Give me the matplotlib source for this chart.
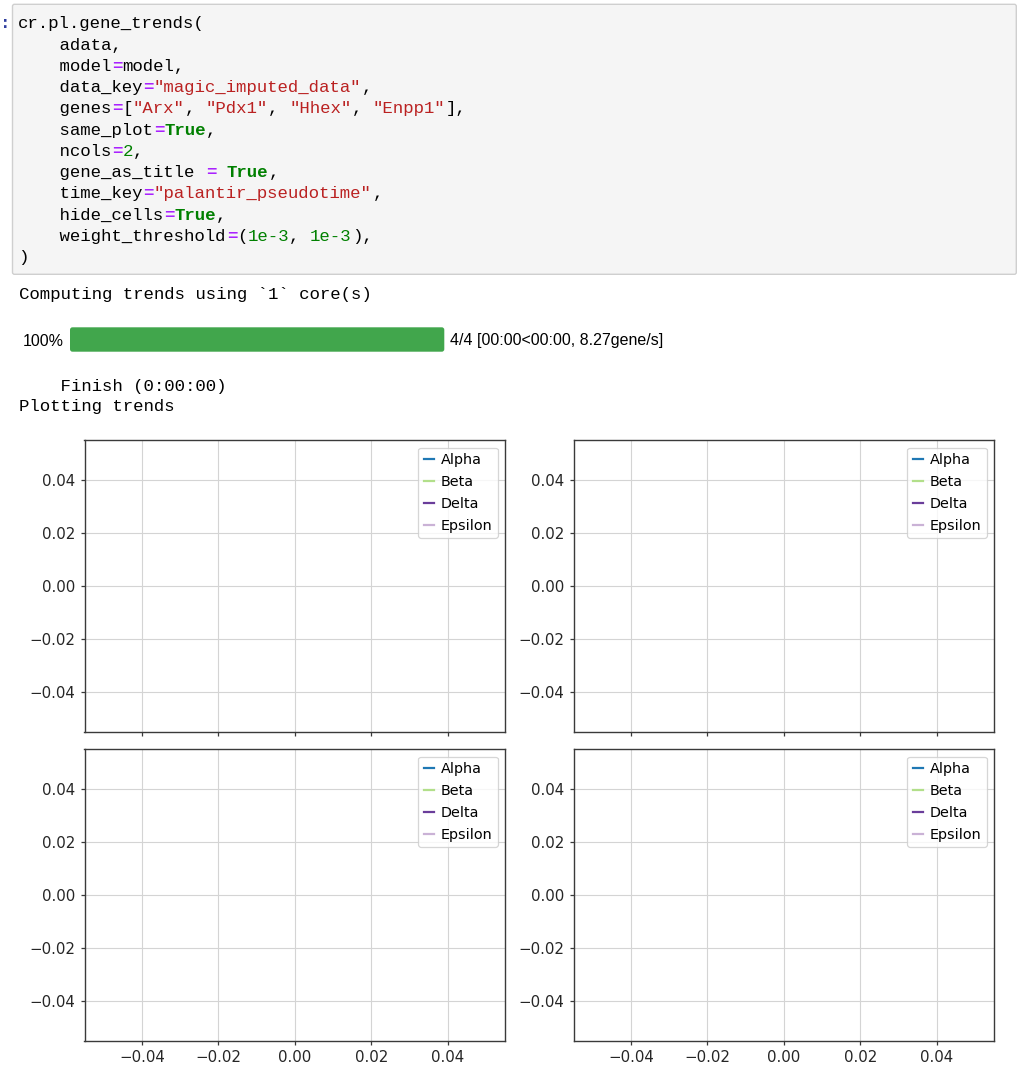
import re
import matplotlib
matplotlib.use("Agg")
import matplotlib.pyplot as plt
from matplotlib.patches import FancyBboxPatch
from matplotlib.transforms import IdentityTransform

plt.rcParams["font.family"] = ["DejaVu Sans"]

# ---------------- data ----------------
code_lines = [
    'cr.pl.gene_trends(',
    '    adata,',
    '    model=model,',
    '    data_key="magic_imputed_data",',
    '    genes=["Arx", "Pdx1", "Hhex", "Enpp1"],',
    '    same_plot=True,',
    '    ncols=2,',
    '    gene_as_title = True,',
    '    time_key="palantir_pseudotime",',
    '    hide_cells=True,',
    '    weight_threshold=(1e-3, 1e-3),',
    ')',
]
log_before = "Computing trends using `1` core(s)"
progress_done = 4
progress_total = 4
progress_pct = "100%"
progress_info = "4/4 [00:00<00:00, 8.27gene/s]"
log_after = ["    Finish (0:00:00)", "Plotting trends"]

lineages = ["Alpha", "Beta", "Delta", "Epsilon"]
lineage_colors = ["#1f78b4", "#b2df8a", "#6a3d9a", "#cab2d6"]
n_genes = 4  # Arx, Pdx1, Hhex, Enpp1 -> one panel each
axis_lim = (-0.055, 0.055)
tick_vals = [-0.04, -0.02, 0.0, 0.02, 0.04]

# ---------------- figure ----------------
W, H = 1032, 1079
DPI = 100
fig = plt.figure(figsize=(W / DPI, H / DPI), dpi=DPI)
fig.patch.set_facecolor("white")
ident = IdentityTransform()


def dy(py):
    return H - py


# code cell box
box = FancyBboxPatch((12.5, dy(274.3)), 1016.3 - 12.5, 274.3 - 4.3,
                     boxstyle="round,pad=0,rounding_size=2",
                     transform=ident, facecolor="#f5f5f5",
                     edgecolor="#cfcfcf", linewidth=1.0)
fig.patches.append(box)

MONO = "Liberation Mono"
MSIZE = 12.5
ADV = 0.6 * MSIZE * DPI / 72.0

fig.text(0.0, dy(28.3), ":", transform=ident, family=MONO, size=MSIZE,
         color="#303f9f", fontweight="bold", va="baseline")

tok = re.compile(r'("[^"]*")|(\bTrue\b)|(\b\d+(?:e-\d+)?\b)|(=)')
styles = {1: ("#ba2121", "normal"), 2: ("#008000", "bold"),
          3: ("#008000", "normal"), 4: ("#aa22ff", "bold")}


def segments(line):
    segs, pos = [], 0
    for m in tok.finditer(line):
        if m.start() > pos:
            segs.append((pos, line[pos:m.start()], ("#000000", "normal")))
        segs.append((m.start(), m.group(0), styles[m.lastindex]))
        pos = m.end()
    if pos < len(line):
        segs.append((pos, line[pos:], ("#000000", "normal")))
    return segs


x0 = 18.3
for i, line in enumerate(code_lines):
    base = 28.3 + i * 21.27
    for col, txt, (c, w) in segments(line):
        if txt.strip() == "":
            continue
        fig.text(x0 + col * ADV, dy(base), txt, transform=ident, family=MONO,
                 size=MSIZE, color=c, fontweight=w, va="baseline", ha="left")

fig.text(19.3, dy(299.0), log_before, transform=ident, family=MONO,
         size=MSIZE, color="#000000", va="baseline")

# progress bar
bar_x0, bar_x1 = 70.0, 444.3
bar_w = (bar_x1 - bar_x0) * progress_done / progress_total
bar = FancyBboxPatch((bar_x0, dy(351.7)), bar_w, 351.7 - 327.3,
                     boxstyle="round,pad=0,rounding_size=2.5",
                     transform=ident, facecolor="#41a64c", edgecolor="none")
fig.patches.append(bar)
fig.text(22.7, dy(345.5), progress_pct, transform=ident,
         family="Liberation Sans", size=11.5, color="#000000", va="baseline")
fig.text(450.0, dy(345.5), progress_info, transform=ident,
         family="Liberation Sans", size=11.5, color="#000000", va="baseline")

fig.text(19.3, dy(391.3), log_after[0], transform=ident, family=MONO,
         size=MSIZE, color="#000000", va="baseline")
fig.text(19.3, dy(411.5), log_after[1], transform=ident, family=MONO,
         size=MSIZE, color="#000000", va="baseline")

# ---------------- panels ----------------
col_left = [84.5, 573.5]
col_w = 420.5
row_top = [440.3, 749.3]
row_h = 291.2

for k in range(n_genes):
    r, c = divmod(k, 2)
    left = col_left[c] / W
    bottom = 1 - (row_top[r] + row_h) / H
    ax = fig.add_axes([left, bottom, col_w / W, row_h / H])
    for lab, colr in zip(lineages, lineage_colors):
        ax.plot([], [], color=colr, label=lab, lw=1.6)
    ax.set_xlim(*axis_lim)
    ax.set_ylim(*axis_lim)
    ax.set_xticks(tick_vals)
    ax.set_yticks(tick_vals)
    ax.grid(True, color="#d4d4d4", linewidth=0.8)
    ax.set_axisbelow(True)
    for sp in ax.spines.values():
        sp.set_color("#3a3a3a")
        sp.set_linewidth(1.0)
    ax.tick_params(labelsize=10.8, labelcolor="#262626", color="#3a3a3a",
                   length=3.0, width=0.9, pad=3.5)
    if r == 0:
        ax.tick_params(labelbottom=False)
    leg = ax.legend(loc="upper right", handlelength=0.7,
                    handletextpad=0.45, borderpad=0.38, labelspacing=0.55,
                    borderaxespad=0.5, framealpha=0.8, edgecolor="#cccccc",
                    prop={"family": "DejaVu Sans", "size": 10.4})
    leg.get_frame().set_linewidth(0.9)

fig.savefig("out.png", dpi=DPI)
